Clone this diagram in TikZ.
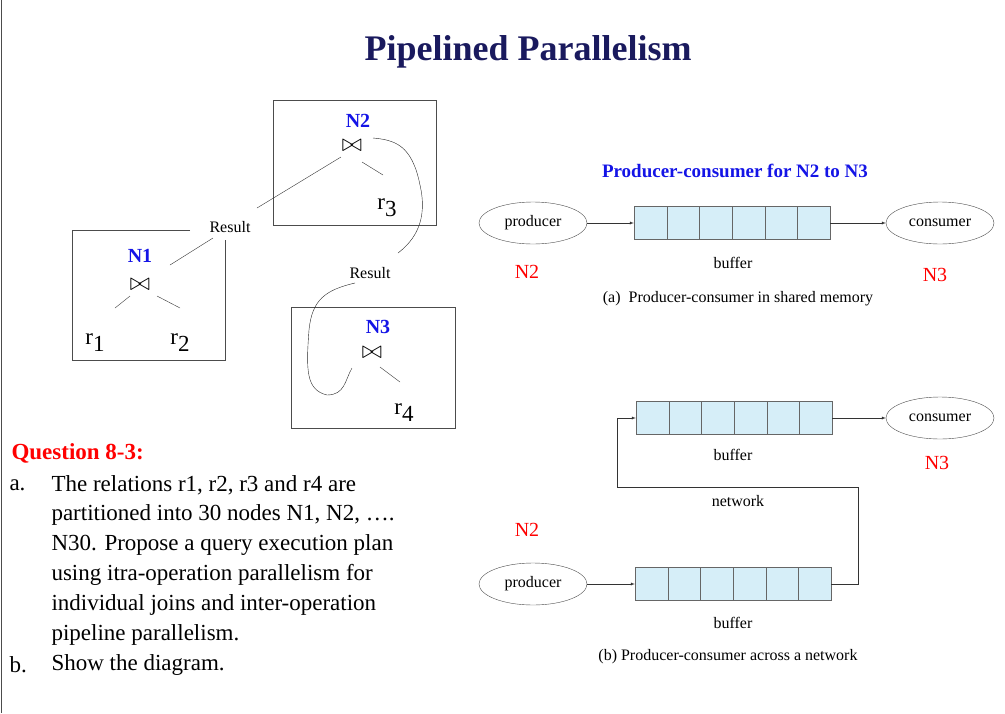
\documentclass[tikz,border=0pt]{standalone}
\usepackage{fontspec}
\setmainfont{Liberation Serif}
\usetikzlibrary{shapes,arrows}
\definecolor{navy}{RGB}{26,26,94}
\definecolor{nblue}{RGB}{20,20,230}
\definecolor{bufcol}{RGB}{214,238,248}
\newcommand{\relsub}[1]{r\raisebox{-7pt}{#1}}
\tikzstyle{fsz} = [font=\fontsize{16}{18}\selectfont]
\tikzstyle{nodelabel} = [font=\fontsize{20}{22}\selectfont\bfseries,text=nblue]
\tikzstyle{relname} = [font=\fontsize{23}{26}\selectfont]
\tikzstyle{joinop} = [font=\fontsize{26}{28}\selectfont]
\tikzstyle{procell} = [ellipse,draw=black!70,fsz,minimum width=108pt,minimum height=42pt,inner sep=0pt]
\tikzstyle{cell} = [rectangle,draw=black!60,fill=bufcol,minimum width=32.7pt,minimum height=33pt,inner sep=0pt]
\tikzstyle{redlab} = [font=\fontsize{20}{22}\selectfont,text=red]
\tikzstyle{qtext} = [font=\fontsize{23}{27}\selectfont,anchor=west]
\begin{document}
\begin{tikzpicture}[x=1pt,y=-1pt,>=latex]
\useasboundingbox (0,0) rectangle (1005,713);
\draw[black!70] (1,0) -- (1,713);

\node[font=\fontsize{36}{40}\selectfont\bfseries,text=navy] (title) at (528,52) {Pipelined Parallelism};

% query tree
\draw[black!70] (273,100) rectangle (436,225);
\draw[black!70] (190,230) -- (72,230) -- (72,360) -- (225,360) -- (225,240);
\draw[black!70] (291,307) rectangle (455,428);
\node[nodelabel] (n2) at (358,121) {N2};
\node[joinop] (j2) at (352,146) {$\bowtie$};
\node[relname] (r3) at (387,208) {\relsub{3}};
\node[fsz] (res1) at (230,227) {Result};
\node[nodelabel] (n1) at (140,256) {N1};
\node[joinop] (j1) at (140,285) {$\bowtie$};
\node[relname] (r1) at (95,343) {\relsub{1}};
\node[relname] (r2) at (180,343) {\relsub{2}};
\node[fsz] (res2) at (370,273) {Result};
\node[nodelabel] (n3) at (378,327) {N3};
\node[joinop] (j3) at (372,353) {$\bowtie$};
\node[relname] (r4) at (404,413) {\relsub{4}};

\draw[black!80] (341,157) -- (257,208);
\draw[black!80] (362,162) -- (383,175);
\draw[black!80] (213,238) -- (170,265);
\draw[black!80] (130,296) -- (115,308);
\draw[black!80] (157,296) -- (180,308);
\draw[black!80] (380,367) -- (400,382);
\draw[black!85] (373,138) .. controls (395,140) and (412,145) .. (420,185)
  .. controls (428,220) and (415,240) .. (398,253);
\draw[black!85] (355,283) .. controls (325,290) and (312,300) .. (309,330)
  .. controls (306,370) and (306,390) .. (327,395)
  .. controls (345,395) and (345,380) .. (352,368);

% question
\node[font=\fontsize{23}{27}\selectfont\bfseries,text=red,anchor=west] (q) at (8,453) {Question 8-3:};
\node[qtext] (qa) at (6,485) {a.};
\node[qtext] (qa1) at (48,485) {The relations r1, r2, r3 and r4 are};
\node[qtext] (qa2) at (48,515) {partitioned into 30 nodes N1, N2, \dots.};
\node[qtext] (qa3) at (48,545) {N30. Propose a query execution plan};
\node[qtext] (qa4) at (48,575) {using itra-operation parallelism for};
\node[qtext] (qa5) at (48,605) {individual joins and inter-operation};
\node[qtext] (qa6) at (48,635) {pipeline parallelism.};
\node[qtext] (qb) at (6,665) {b.};
\node[qtext] (qb1) at (48,665) {Show the diagram.};

% (a) shared memory
\node[font=\fontsize{19}{21}\selectfont\bfseries,text=nblue] (pctitle) at (735,171) {Producer-consumer for N2 to N3};
\node[procell] (prodA) at (533,223) {producer};
\foreach \i in {1,...,6}
  \node[cell] (a\i) at (634+32.7*\i-16.35,223) {};
\node[procell] (consA) at (940,223) {consumer};
\draw[->,black!80] (prodA) -- (a1);
\draw[->,black!80] (a6) -- (consA);
\node[fsz] (bufA) at (733,263) {buffer};
\node[redlab] (n2a) at (527,272) {N2};
\node[redlab] (n3a) at (935,275) {N3};
\node[fsz] (capA) at (738,299) {(a)\ \ Producer-consumer in shared memory};

% (b) network
\foreach \i in {1,...,6}
  \node[cell] (b\i) at (636+32.7*\i-16.35,418) {};
\node[procell] (consB) at (940,418) {consumer};
\node[fsz] (bufB) at (733,455) {buffer};
\node[redlab] (n3b) at (937,463) {N3};
\node[fsz] (net) at (738,501) {network};
\node[redlab] (n2b) at (527,530) {N2};
\node[procell] (prodB) at (533,584) {producer};
\foreach \i in {1,...,6}
  \node[cell] (c\i) at (635+32.7*\i-16.35,584) {};
\node[fsz] (bufC) at (733,623) {buffer};
\node[fsz] (capB) at (728,657) {(b) Producer-consumer across a network};
\coordinate (netL) at (617,487);
\coordinate (netR) at (858,487);
\draw[->,black!80] (c6.east) -| (netR) -- (netL) |- (b1.west);
\draw[->,black!80] (b6) -- (consB);
\draw[->,black!80] (prodB) -- (c1);
\end{tikzpicture}
\end{document}
